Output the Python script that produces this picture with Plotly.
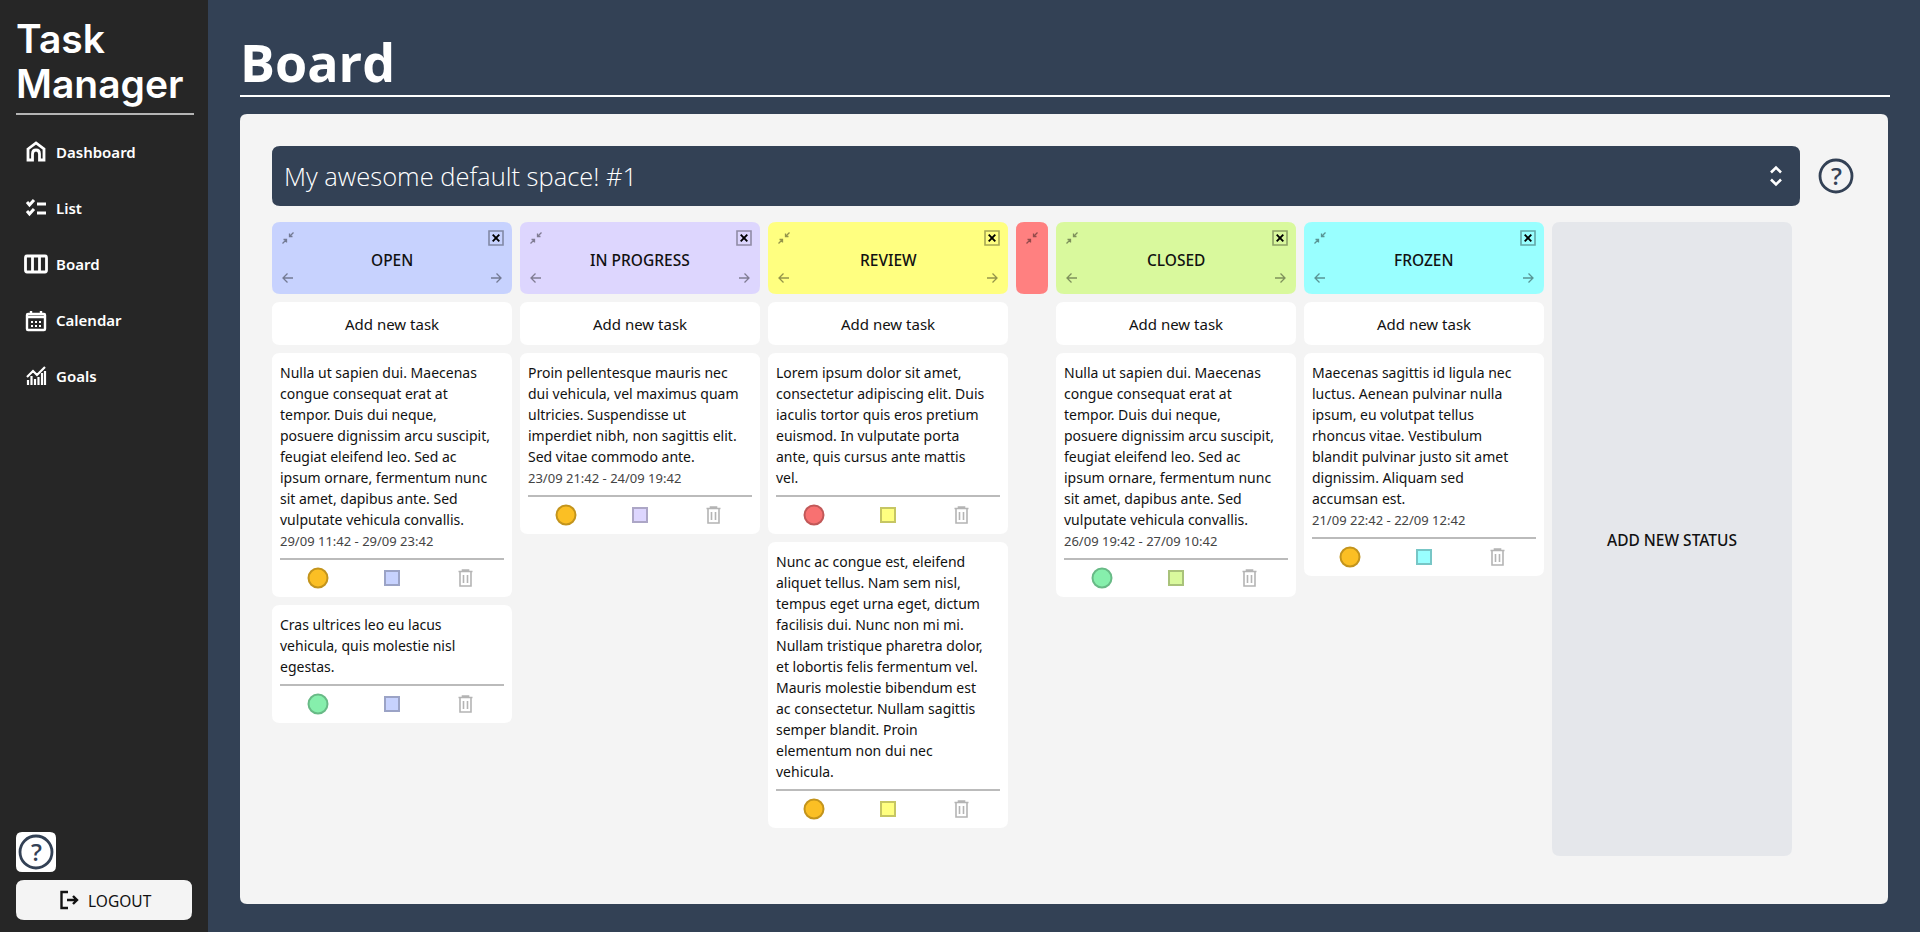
import plotly.graph_objects as go

# board content
nav_labels = ["Dashboard", "List", "Board", "Calendar", "Goals"]
status_names = ["OPEN", "IN PROGRESS", "REVIEW", "", "CLOSED", "FROZEN"]
status_colors = ["#C7D2FE", "#DDD6FE", "#FFFF80", "#FF8080", "#D9F99D", "#99FFFF"]

open_tasks = [
    ["Nulla ut sapien dui. Maecenas", "congue consequat erat at", "tempor. Duis dui neque,",
     "posuere dignissim arcu suscipit,", "feugiat eleifend leo. Sed ac", "ipsum ornare, fermentum nunc",
     "sit amet, dapibus ante. Sed", "vulputate vehicula convallis."],
    ["Cras ultrices leo eu lacus", "vehicula, quis molestie nisl", "egestas."],
]
open_dates = ["29/09 11:42 - 29/09 23:42", None]
open_priority = ["#FBBF24", "#86EFAC"]

progress_tasks = [
    ["Proin pellentesque mauris nec", "dui vehicula, vel maximus quam", "ultricies. Suspendisse ut",
     "imperdiet nibh, non sagittis elit.", "Sed vitae commodo ante."],
]
progress_dates = ["23/09 21:42 - 24/09 19:42"]
progress_priority = ["#FBBF24"]

review_tasks = [
    ["Lorem ipsum dolor sit amet,", "consectetur adipiscing elit. Duis", "iaculis tortor quis eros pretium",
     "euismod. In vulputate porta", "ante, quis cursus ante mattis", "vel."],
    ["Nunc ac congue est, eleifend", "aliquet tellus. Nam sem nisl,", "tempus eget urna eget, dictum",
     "facilisis dui. Nunc non mi mi.", "Nullam tristique pharetra dolor,", "et lobortis felis fermentum vel.",
     "Mauris molestie bibendum est", "ac consectetur. Nullam sagittis", "semper blandit. Proin",
     "elementum non dui nec", "vehicula."],
]
review_dates = [None, None]
review_priority = ["#F87171", "#FBBF24"]

closed_tasks = [open_tasks[0]]
closed_dates = ["26/09 19:42 - 27/09 10:42"]
closed_priority = ["#86EFAC"]

frozen_tasks = [
    ["Maecenas sagittis id ligula nec", "luctus. Aenean pulvinar nulla", "ipsum, eu volutpat tellus",
     "rhoncus vitae. Vestibulum", "blandit pulvinar justo sit amet", "dignissim. Aliquam sed", "accumsan est."],
]
frozen_dates = ["21/09 22:42 - 22/09 12:42"]
frozen_priority = ["#FBBF24"]

all_tasks = [open_tasks, progress_tasks, review_tasks, [], closed_tasks, frozen_tasks]
all_dates = [open_dates, progress_dates, review_dates, [], closed_dates, frozen_dates]
all_priority = [open_priority, progress_priority, review_priority, [], closed_priority, frozen_priority]

# page layout in pixels
W, H = 1920, 932
BG = "#334155"
SIDE = "#262626"
PANEL = "#F4F4F4"
FONT = "Noto Sans"
TITLE_FONT = "Inter"
COL_W = 240
COLLAPSED_W = 32
COL_GAP = 8
COL_X0 = 272
HEAD_Y0, HEAD_Y1 = 222, 294
ADD_Y0, ADD_Y1 = 302, 345
CARD_Y0 = 353
LINE = 21

shapes = []
notes = []


def rrect(x0, y0, x1, y1, fill, r=8, line=None, lw=0):
    d = (f"M {x0+r} {y0} L {x1-r} {y0} Q {x1} {y0} {x1} {y0+r} L {x1} {y1-r} Q {x1} {y1} {x1-r} {y1} "
         f"L {x0+r} {y1} Q {x0} {y1} {x0} {y1-r} L {x0} {y0+r} Q {x0} {y0} {x0+r} {y0} Z")
    shapes.append(dict(type="path", path=d, fillcolor=fill, line=dict(width=lw, color=line or fill), layer="below"))


def icon(cx, cy, d, color, lw=1.5):
    # d uses only M/L/Q/Z with x y pairs relative to the icon centre
    out, is_x = [], True
    for tok in d.split():
        if tok.isalpha():
            out.append(tok)
            is_x = True
        else:
            out.append(str(float(tok) + (cx if is_x else cy)))
            is_x = not is_x
    shapes.append(dict(type="path", path=" ".join(out), line=dict(color=color, width=lw), layer="below"))


def text(x, y, s, size, color="#111111", anchor="left", family=FONT, weight=400):
    notes.append(dict(x=x, y=y, text=s, showarrow=False, xanchor=anchor, yanchor="middle",
                      font=dict(family=family, size=size, color=color, weight=weight),
                      borderpad=0, borderwidth=0))


def darker(c, k=0.78):
    rgb = [int(c[i:i+2], 16) for i in (1, 3, 5)]
    return "#" + "".join(f"{int(v*k):02X}" for v in rgb)


COMPRESS = "M -5.5 5.5 L -1.5 1.5 M -4.5 1.5 L -1.5 1.5 L -1.5 4.5 M 5.5 -5.5 L 1.5 -1.5 M 4.5 -1.5 L 1.5 -1.5 L 1.5 -4.5"

# page frame
rrect(-10, -10, 208, H + 10, SIDE, r=0)
rrect(240, 114, 1888, 904, PANEL, r=7)
shapes.append(dict(type="line", x0=16, x1=194, y0=114, y1=114, line=dict(color="#E5E5E5", width=1.5), layer="below"))
shapes.append(dict(type="line", x0=240, x1=1890, y0=96, y1=96, line=dict(color="#FFFFFF", width=2), layer="below"))

text(16, 38.5, "Task", 39, "#FFFFFF", family=TITLE_FONT, weight=600)
text(16, 83.5, "Manager", 39, "#FFFFFF", family=TITLE_FONT, weight=600)
text(240, 61, "Board", 52, "#FFFFFF", family="Open Sans", weight=700)

# navigation
nav_y = [152 + 56 * i for i in range(len(nav_labels))]
for label, y in zip(nav_labels, nav_y):
    text(56, y, label, 15, "#FFFFFF", weight=600)
WH = "#FFFFFF"
icon(36, nav_y[0], "M -8 -3 L 0 -9 L 8 -3 L 8 8 L 3.5 8 L 3.5 2 Q 3.5 -2 0 -2 Q -3.5 -2 -3.5 2 L -3.5 8 L -8 8 Z", WH, 2.8)
icon(36, nav_y[1], "M -9 -6 L -6.5 -3 L -2 -8 M -9 3 L -6.5 6 L -2 1 M 1 -4 L 10 -4 M 1 5 L 10 5", WH, 3)
icon(36, nav_y[2], "M -9 -8 L 9 -8 Q 10.5 -8 10.5 -6 L 10.5 6 Q 10.5 8 9 8 L -9 8 Q -10.5 8 -10.5 6 L -10.5 -6 Q -10.5 -8 -9 -8 Z "
                   "M -3.5 -8 L -3.5 8 M 3.5 -8 L 3.5 8", WH, 2.8)
icon(36, nav_y[3], "M -8 -6 L 8 -6 Q 9 -6 9 -5 L 9 9 Q 9 10 8 10 L -8 10 Q -9 10 -9 9 L -9 -5 Q -9 -6 -8 -6 Z "
                   "M -9 -3 L 9 -3 M -5 -9 L -5 -6 M 5 -9 L 5 -6", WH, 2.4)
icon(36, nav_y[3], "M -5 2 L -3 2 M -1 2 L 1 2 M 3 2 L 5 2 M -5 6 L -3 6 M -1 6 L 1 6 M 3 6 L 5 6", WH, 1.8)
icon(36, nav_y[4], "M -9 1 L -3 -5 L 1 -1 L 9 -9 M -8 9 L -8 4 M -4.5 9 L -4.5 0 M -1 9 L -1 3 M 2.5 9 L 2.5 1 M 6 9 L 6 -3 M 9 9 L 9 -5", WH, 2.2)

# sidebar help and logout
rrect(16, 832, 56, 872, "#FFFFFF", r=6)
shapes.append(dict(type="circle", x0=20, x1=52, y0=836, y1=868, line=dict(color=BG, width=2.8), layer="below"))
text(36, 851.5, "?", 24, BG, anchor="center", family="Open Sans", weight=600)
rrect(16, 880, 192, 920, PANEL, r=8)
icon(69, 900, "M -1 -8 L -7.5 -8 L -7.5 8 L -1 8 M -2 0 L 8 0 M 4 -4 L 8 0 L 4 4", "#111111", 2.4)
text(120, 901, "LOGOUT", 15.5, "#111111", anchor="center")

# space selector
rrect(272, 146, 1800, 206, BG, r=8)
text(284, 176, "My awesome default space! #1", 25.5, "#FFFFFF", family="Open Sans", weight=300)
icon(1776, 176, "M -5 -3.5 L 0 -8.5 L 5 -3.5 M -5 3.5 L 0 8.5 L 5 3.5", "#FFFFFF", 2.6)
shapes.append(dict(type="circle", x0=1820, x1=1852, y0=160, y1=192, line=dict(color=BG, width=2.8), layer="below"))
text(1836, 175.5, "?", 24, BG, anchor="center", family="Open Sans", weight=600)

# columns
dot_x, dot_y, dot_c = [], [], []
sq_x, sq_y, sq_c = [], [], []
x = COL_X0
GREY = "rgba(0,0,0,0.42)"
for name, color, tasks, dates, prio in zip(status_names, status_colors, all_tasks, all_dates, all_priority):
    if not name:
        # collapsed column, only the header stub and its expand icon
        rrect(x, HEAD_Y0, x + COLLAPSED_W, HEAD_Y1, color, r=8)
        icon(x + 16, 238, COMPRESS, GREY, 1.3)
        x += COLLAPSED_W + COL_GAP
        continue
    rrect(x, HEAD_Y0, x + COL_W, HEAD_Y1, color, r=8)
    icon(x + 16, 238, COMPRESS, GREY, 1.3)
    icon(x + 224, 238, "M -7 -7 L 7 -7 L 7 7 L -7 7 Z", "rgba(0,0,0,0.35)", 1.6)
    icon(x + 224, 238, "M -3.3 -3.3 L 3.3 3.3 M 3.3 -3.3 L -3.3 3.3", "#000000", 1.9)
    icon(x + 16, 278, "M 5 0 L -5 0 M -0.5 -4.5 L -5 0 L -0.5 4.5", GREY, 1.3)
    icon(x + 224, 278, "M -5 0 L 5 0 M 0.5 -4.5 L 5 0 L 0.5 4.5", GREY, 1.3)
    text(x + COL_W / 2, 259.5, name, 15.5, "#111111", anchor="center", weight=500)

    rrect(x, ADD_Y0, x + COL_W, ADD_Y1, "#FFFFFF", r=8)
    text(x + COL_W / 2, 324, "Add new task", 15, "#111111", anchor="center")

    y = CARD_Y0
    for lines, date, pr in zip(tasks, dates, prio):
        rows = len(lines) + (1 if date else 0)
        bottom = y + 55 + rows * LINE
        rrect(x, y, x + COL_W, bottom, "#FFFFFF", r=8)
        for i, row in enumerate(lines):
            text(x + 8.4, y + 19.5 + i * LINE, row, 14)
        if date:
            text(x + 8.4, y + 19.5 + len(lines) * LINE, date, 13, "#444444")
        shapes.append(dict(type="line", x0=x + 8, x1=x + 232, y0=bottom - 38, y1=bottom - 38,
                           line=dict(color="#BBBBBB", width=2), layer="below"))
        dot_x.append(x + 46); dot_y.append(bottom - 19); dot_c.append(pr)
        sq_x.append(x + 120); sq_y.append(bottom - 19); sq_c.append(color)
        icon(x + 193.5, bottom - 19, "M -7 -6.5 L 7 -6.5 M -3 -6.5 L -3 -8 L 3 -8 L 3 -6.5 M -5.5 -6.5 L -5.5 8 L 5.5 8 L 5.5 -6.5 "
                                    "M -2 -3 L -2 5 M 2 -3 L 2 5", "#B4B4B4", 1.6)
        y = bottom + COL_GAP
    x += COL_W + COL_GAP

# add status column
rrect(x, HEAD_Y0, x + COL_W, 856, "#E5E7EB", r=8)
text(x + COL_W / 2, 540, "ADD NEW STATUS", 15.5, "#111111", anchor="center", weight=500)

fig = go.Figure()
fig.add_trace(go.Scatter(x=dot_x, y=dot_y, mode="markers", hoverinfo="skip",
                         marker=dict(symbol="circle", size=19, color=dot_c,
                                     line=dict(width=2, color=[darker(c) for c in dot_c]))))
fig.add_trace(go.Scatter(x=sq_x, y=sq_y, mode="markers", hoverinfo="skip",
                         marker=dict(symbol="square", size=14, color=sq_c,
                                     line=dict(width=2, color=[darker(c) for c in sq_c]))))

fig.update_layout(width=W, height=H, margin=dict(l=0, r=0, t=0, b=0), showlegend=False,
                  paper_bgcolor=BG, plot_bgcolor=BG, shapes=shapes, annotations=notes,
                  xaxis=dict(range=[0, W], visible=False, fixedrange=True),
                  yaxis=dict(range=[H, 0], visible=False, fixedrange=True))

fig.write_html("out.html", config=dict(displayModeBar=False),
               post_script="document.body.style.margin='0';document.body.style.overflow='hidden';")
